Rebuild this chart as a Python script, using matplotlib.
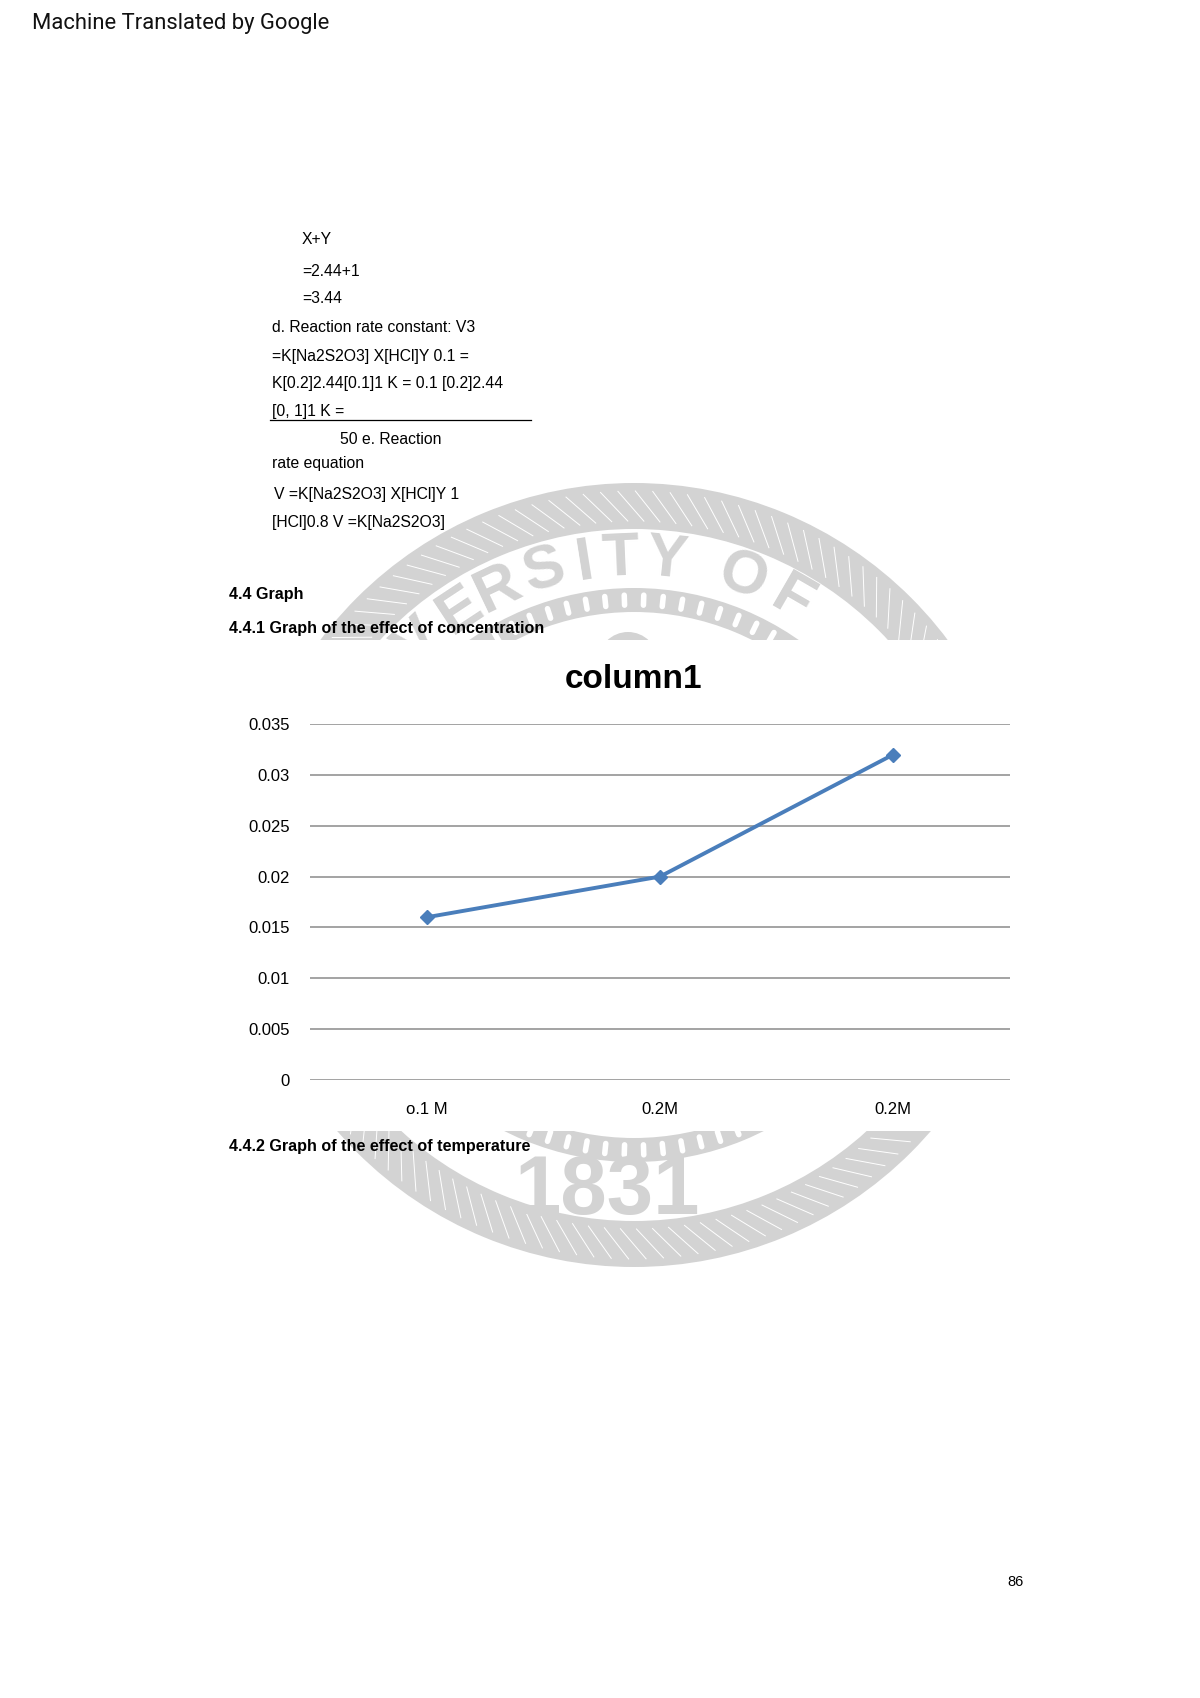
import numpy as np
import matplotlib
matplotlib.use("Agg")
import matplotlib.pyplot as plt
from matplotlib.patches import Wedge, Rectangle, Circle

# ---- data ----
categories = ["o.1 M", "0.2M", "0.2M"]
values = [0.016, 0.020, 0.032]
y_ticks = [0, 0.005, 0.01, 0.015, 0.02, 0.025, 0.03, 0.035]
y_tick_labels = ["0", "0.005", "0.01", "0.015", "0.02", "0.025", "0.03", "0.035"]
chart_title = "column1"

body_lines = [
    ("X+Y", 302, 239),
    ("=2.44+1", 302, 271),
    ("=3.44", 302, 298),
    ("d. Reaction rate constant: V3", 272, 327),
    ("=K[Na2S2O3] X[HCl]Y 0.1 =", 272, 356),
    ("K[0.2]2.44[0.1]1 K = 0.1 [0.2]2.44", 272, 383),
    ("[0, 1]1 K =", 272, 411),
    ("50 e. Reaction", 340, 439),
    ("rate equation", 272, 463),
    ("V =K[Na2S2O3] X[HCl]Y 1", 274, 494),
    ("[HCl]0.8 V =K[Na2S2O3]", 272, 523),
]
headings = [
    ("4.4 Graph", 229, 595),
    ("4.4.1 Graph of the effect of concentration", 229, 628),
    ("4.4.2 Graph of the effect of temperature", 229, 1147),
]

W, H = 1200, 1698
plt.rcParams['font.family'] = ['Liberation Sans', 'DejaVu Sans']
fig = plt.figure(figsize=(W / 100, H / 100), dpi=100)
fig.patch.set_facecolor("white")

# ---- background axes in pixel coordinates ----
bg = fig.add_axes([0, 0, 1, 1], zorder=0)
bg.set_xlim(0, W)
bg.set_ylim(H, 0)
bg.axis("off")

wm = "#d3d3d3"
cx, cy = 634, 875
# outer band
bg.add_patch(Wedge((cx, cy), 392, 0, 360, width=46, facecolor=wm, edgecolor="none", zorder=1))
for a in np.arange(0, 360, 2.6):
    a1 = np.deg2rad(a)
    a2 = np.deg2rad(a + 4.0)
    bg.plot([cx + 354 * np.cos(a1), cx + 384 * np.cos(a2)],
            [cy - 354 * np.sin(a1), cy - 384 * np.sin(a2)],
            color="white", lw=0.7, zorder=2)
# dotted ring
bg.add_patch(Wedge((cx, cy), 287, 0, 360, width=24, facecolor=wm, edgecolor="none", zorder=1))
for a in np.arange(0, 360, 4.0):
    ar = np.deg2rad(a)
    bg.plot([cx + 270 * np.cos(ar), cx + 280 * np.cos(ar)],
            [cy - 270 * np.sin(ar), cy - 280 * np.sin(ar)],
            color="white", lw=4.0, solid_capstyle="round", zorder=2)
# lettering along the arc
letters = [("U", 153), ("N", 146), ("I", 140), ("V", 133), ("E", 123.4), ("R", 115.5),
           ("S", 106.5), ("I", 99), ("T", 92.5), ("Y", 84), ("O", 70), ("F", 60)]
for ch, ang in letters:
    ar = np.deg2rad(ang)
    bg.text(cx + 316 * np.cos(ar), cy - 316 * np.sin(ar), ch, rotation=ang - 90,
            ha="center", va="center", fontsize=44, fontweight="bold", color=wm, zorder=2,
            rotation_mode="anchor")
bg.add_patch(Circle((628, 662), 30, facecolor=wm, edgecolor="none", zorder=1))
bg.text(608, 1192, "1831", ha="center", va="center", fontsize=60, fontweight="bold",
        color=wm, zorder=2)

# white chart area
bg.add_patch(Rectangle((200, 640), 840, 491, facecolor="white", edgecolor="none", zorder=5))

# body text
for s, x, y in body_lines:
    bg.text(x, y, s, ha="left", va="center", fontsize=11.3, color="black", zorder=10)
bg.plot([270, 531], [420, 420], color="black", lw=0.9, zorder=10)
for s, x, y in headings:
    bg.text(x, y, s, ha="left", va="center", fontsize=11.6, fontweight="bold", color="black", zorder=10)
bg.text(32, 23, "Machine Translated by Google", ha="left", va="center", fontsize=15.8,
        family=["Roboto", "DejaVu Sans"], color="#111111", zorder=10)
bg.text(1015, 1582, "86", ha="center", va="center", fontsize=10.5, color="black", zorder=10)
bg.text(634, 679, chart_title, ha="center", va="center", fontsize=24, fontweight="bold",
        color="black", zorder=10)

# ---- chart axes ----
left, right = 310, 1010
top, bottom = 724, 1080
ax = fig.add_axes([left / W, 1 - bottom / H, (right - left) / W, (bottom - top) / H], zorder=2)
ax.patch.set_alpha(0)
x = np.arange(len(categories))
ax.plot(x, values, color="#4a7ebb", lw=2.8, marker="D", markersize=7.5, zorder=3, clip_on=False)
ax.set_xlim(-0.5, len(categories) - 0.5)
ax.set_ylim(0, 0.035)
ax.set_yticks(y_ticks)
ax.set_yticklabels(y_tick_labels)
ax.set_xticks(x)
ax.set_xticklabels(categories)
ax.grid(axis="y", color="#9c9c9c", lw=1.3)
ax.set_axisbelow(True)
for sp in ax.spines.values():
    sp.set_visible(False)
ax.tick_params(axis="both", length=0, labelsize=12, colors="black")
ax.tick_params(axis="y", pad=14.5)
ax.tick_params(axis="x", pad=15.5)

fig.savefig("out.png", dpi=100, facecolor="white")
